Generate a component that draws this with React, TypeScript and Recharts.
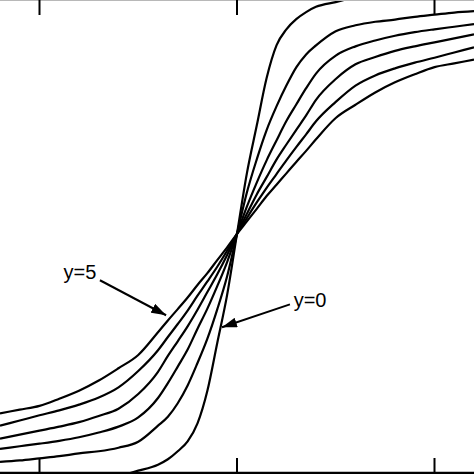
import React from "react";
import {
  Label,
  Line,
  LineChart,
  ReferenceDot,
  ReferenceLine,
  XAxis,
  YAxis,
} from "recharts";

// sample positions along x (normalised, ticks at -1, 0, 1)
const X_VALUES = [
  -1.2, -1.1, -1.0, -0.9, -0.8, -0.7, -0.6, -0.5, -0.4, -0.35, -0.3, -0.25, -0.2,
  -0.15, -0.1, -0.05, 0, 0.05, 0.1, 0.15, 0.2, 0.25, 0.3, 0.35, 0.4, 0.5, 0.6,
  0.7, 0.8, 0.9, 1.0, 1.1, 1.2,
];

const CURVE_Y0 = [
  -1.01, -1.01, -1.01, -1.01, -1.01, -1.01, -1.01, -0.99, -0.965, -0.942, -0.908,
  -0.866, -0.79, -0.652, -0.45, -0.247, 0.011, 0.267, 0.469, 0.67, 0.808, 0.876,
  0.919, 0.949, 0.971, 0.991, 1.01, 1.01, 1.01, 1.01, 1.01, 1.01, 1.01,
];
const CURVE_Y1 = [
  -0.953, -0.947, -0.938, -0.929, -0.917, -0.908, -0.893, -0.868, -0.8, -0.762,
  -0.705, -0.63, -0.535, -0.432, -0.308, -0.168, 0.011, 0.186, 0.326, 0.45, 0.55,
  0.638, 0.715, 0.77, 0.808, 0.868, 0.893, 0.908, 0.917, 0.929, 0.938, 0.947, 0.953,
];
const CURVE_Y2 = [
  -0.898, -0.887, -0.876, -0.864, -0.849, -0.829, -0.804, -0.765, -0.683, -0.62,
  -0.55, -0.478, -0.39, -0.305, -0.21, -0.108, 0.011, 0.126, 0.228, 0.322, 0.406,
  0.488, 0.558, 0.627, 0.689, 0.765, 0.804, 0.829, 0.849, 0.864, 0.876, 0.887, 0.898,
];
const CURVE_Y3 = [
  -0.855, -0.838, -0.821, -0.804, -0.785, -0.759, -0.728, -0.666, -0.572, -0.505,
  -0.443, -0.38, -0.31, -0.235, -0.16, -0.078, 0.011, 0.096, 0.178, 0.251, 0.325,
  0.389, 0.451, 0.512, 0.578, 0.666, 0.728, 0.759, 0.785, 0.804, 0.821, 0.838, 0.855,
];
const CURVE_Y4 = [
  -0.8, -0.778, -0.756, -0.735, -0.711, -0.681, -0.638, -0.569, -0.481, -0.425,
  -0.37, -0.313, -0.25, -0.19, -0.128, -0.06, 0.011, 0.078, 0.144, 0.206, 0.264,
  0.322, 0.378, 0.432, 0.487, 0.569, 0.638, 0.681, 0.711, 0.735, 0.756, 0.778, 0.8,
];
const CURVE_Y5 = [
  -0.748, -0.732, -0.716, -0.686, -0.652, -0.609, -0.557, -0.501, -0.405, -0.355,
  -0.307, -0.258, -0.205, -0.155, -0.1, -0.046, 0.011, 0.064, 0.117, 0.171, 0.219,
  0.267, 0.315, 0.362, 0.411, 0.501, 0.557, 0.609, 0.652, 0.686, 0.716, 0.732, 0.748,
];

const SERIES = [
  { key: "y0", values: CURVE_Y0 },
  { key: "y1", values: CURVE_Y1 },
  { key: "y2", values: CURVE_Y2 },
  { key: "y3", values: CURVE_Y3 },
  { key: "y4", values: CURVE_Y4 },
  { key: "y5", values: CURVE_Y5 },
];

const X_TICKS = [-1, 0, 1];

// annotations: label anchor and arrow (start -> tip), in data units
const ANNOTATIONS = [
  { text: "y=5", label: { x: -0.795, y: -0.151 }, from: { x: -0.694, y: -0.185 }, to: { x: -0.359, y: -0.333 } },
  { text: "y=0", label: { x: 0.37, y: -0.27 }, from: { x: 0.268, y: -0.287 }, to: { x: -0.076, y: -0.384 } },
];

const FONT = "'Liberation Sans', Arial, sans-serif";
const noLabel = () => "";

export default function App() {
  const data = X_VALUES.map((x, i) => {
    const row: Record<string, number> = { x };
    for (const s of SERIES) row[s.key] = s.values[i];
    return row;
  });

  return (
    <div style={{ position: "absolute", left: 0, top: 0, width: 474, height: 474, background: "#fff", overflow: "hidden" }}>
      <svg width={0} height={0} style={{ position: "absolute" }}>
        <defs>
          <marker
            id="arrowHead"
            markerUnits="userSpaceOnUse"
            markerWidth={15}
            markerHeight={10}
            refX={15}
            refY={5}
            orient="auto"
          >
            <path d="M0,0 L15,5 L0,10 z" fill="#000" />
          </marker>
        </defs>
      </svg>
      <LineChart width={474} height={474} data={data} margin={{ top: 0, right: 0, bottom: 1, left: 0 }}>
        <XAxis
          xAxisId="bottom"
          dataKey="x"
          type="number"
          domain={[-1.2, 1.2]}
          ticks={X_TICKS}
          orientation="bottom"
          mirror
          height={1}
          tickFormatter={noLabel}
          tickSize={15}
          axisLine={{ stroke: "#000", strokeWidth: 2.5 }}
          tickLine={{ stroke: "#000", strokeWidth: 2 }}
        />
        <XAxis
          xAxisId="top"
          dataKey="x"
          type="number"
          domain={[-1.2, 1.2]}
          ticks={X_TICKS}
          orientation="top"
          mirror
          height={1}
          tickFormatter={noLabel}
          tickSize={15}
          axisLine={{ stroke: "#b8b8b8", strokeWidth: 2 }}
          tickLine={{ stroke: "#000", strokeWidth: 2 }}
        />
        <YAxis type="number" domain={[-1, 1]} allowDataOverflow hide />
        {SERIES.map((s) => (
          <Line
            key={s.key}
            xAxisId="bottom"
            dataKey={s.key}
            type="monotone"
            stroke="#000"
            strokeWidth={2.2}
            dot={false}
            activeDot={false}
            isAnimationActive={false}
          />
        ))}
        {ANNOTATIONS.map((a) => (
          <ReferenceLine
            key={a.text + "-arrow"}
            xAxisId="bottom"
            segment={[a.from, a.to]}
            stroke="#000"
            strokeWidth={2}
            markerEnd="url(#arrowHead)"
          />
        ))}
        {ANNOTATIONS.map((a) => (
          <ReferenceDot
            key={a.text}
            xAxisId="bottom"
            x={a.label.x}
            y={a.label.y}
            r={0}
            fill="none"
            stroke="none"
          >
            <Label value={a.text} position="center" fill="#000" fontSize={20} fontFamily={FONT} />
          </ReferenceDot>
        ))}
      </LineChart>
    </div>
  );
}
